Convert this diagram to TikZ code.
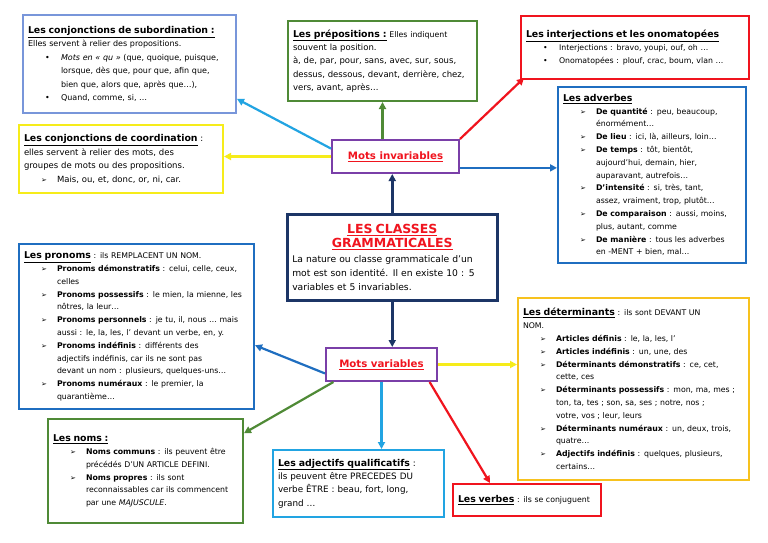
\documentclass[tikz,border=0pt]{standalone}
\usepackage{fontspec}
\setmainfont{DejaVu Sans}
\usetikzlibrary{
  calc,
  positioning,
  arrows.meta}
\definecolor{bleuciel}{HTML}{22A4E2}
\definecolor{pervenche}{HTML}{7896DA}
\definecolor{bleu}{HTML}{1F6EC0}
\definecolor{vert}{HTML}{4F8A36}
\definecolor{rouge}{HTML}{F0141E}
\definecolor{jaune}{HTML}{F6EC1A}
\definecolor{dore}{HTML}{F7C21E}
\definecolor{violet}{HTML}{7A3FA8}
\definecolor{marine}{HTML}{1C3566}
\newcommand{\titre}[1]{{\fontsize{9.4}{12.8}\selectfont\bfseries\underline{#1}}}
\newcommand{\rond}{\hspace*{17pt}\makebox[16pt][l]{•}}
\newcommand{\fl}{\hspace*{17pt}\makebox[16pt][l]{\fontsize{7}{7}\selectfont ➢}}
\newcommand{\suite}{\hspace*{33pt}}

\begin{document}
\begin{tikzpicture}[
  x=1pt, y=-1pt,
  >={Triangle[length=7pt,width=7pt]},
  boite/.style={draw,line width=2pt,anchor=north west,fill=white,inner sep=5pt,
    align=left,font=\fontsize{7.8}{12.8}\selectfont},
  grand/.style={font=\fontsize{8.5}{13.4}\selectfont},
  mots/.style={draw=violet,line width=2pt,fill=white,anchor=north west,
    text=rouge,font=\fontsize{10.2}{12}\selectfont\bfseries},
  fil/.style={->,line width=2.2pt}
]%
  \useasboundingbox[fill=white] (0,0) rectangle (768,543);

  \node (subord) [boite,draw=pervenche,text width=203pt,minimum height=98pt,
    font=\fontsize{8}{13.4}\selectfont] at (22,14)
  {\titre{Les conjonctions de subordination :}\\
   Elles servent à relier des propositions.\\
   \rond\textit{Mots en « qu »} (que, quoique, puisque,\\
   \suite lorsque, dès que, pour que, afin que,\\
   \suite bien que, alors que, après que…),\\
   \rond Quand, comme, si, …};

  \node (prep) [boite,grand,draw=vert,text width=179pt,minimum height=80pt] at (287,20)
  {\titre{Les prépositions :} {\fontsize{7.8}{12}\selectfont Elles indiquent}\\
   souvent la position.\\
   à, de, par, pour, sans, avec, sur, sous,\\
   dessus, dessous, devant, derrière, chez,\\
   vers, avant, après…};

  \node (interj) [boite,draw=rouge,text width=218pt,minimum height=63pt] at (520,15)
  {\titre{Les interjections et les onomatopées}\\
   \rond Interjections : bravo, youpi, ouf, oh …\\
   \rond Onomatopées : plouf, crac, boum, vlan …};

  \node (adv) [boite,draw=bleu,text width=178pt,minimum height=176pt] at (557,86)
  {\titre{Les adverbes}\\
   \fl\textbf{De quantité} : peu, beaucoup,\\
   \suite énormément…\\
   \fl\textbf{De lieu} : ici, là, ailleurs, loin…\\
   \fl\textbf{De temps} : tôt, bientôt,\\
   \suite aujourd’hui, demain, hier,\\
   \suite auparavant, autrefois…\\
   \fl\textbf{D’intensité} : si, très, tant,\\
   \suite assez, vraiment, trop, plutôt…\\
   \fl\textbf{De comparaison} : aussi, moins,\\
   \suite plus, autant, comme\\
   \fl\textbf{De manière} : tous les adverbes\\
   \suite en -MENT + bien, mal…};

  \node (coord) [boite,grand,draw=jaune,text width=194pt,minimum height=68pt] at (18,124)
  {\titre{Les conjonctions de coordination} :\\
   elles servent à relier des mots, des\\
   groupes de mots ou des propositions.\\
   \fl Mais, ou, et, donc, or, ni, car.};

  \node (inv) [mots,minimum width=127pt,minimum height=33pt] at (331,139)
  {\underline{Mots invariables}};

  \node (cent) [boite,draw=marine,line width=2.5pt,text width=200pt,minimum height=86pt,
    font=\fontsize{9.2}{14}\selectfont] at (286,213)
  {{\fontsize{12.5}{15}\selectfont\bfseries\color{rouge}%
    \makebox[\hsize][c]{\underline{LES CLASSES}}\\
    \makebox[\hsize][c]{\underline{GRAMMATICALES}}}\\[1pt]
   La nature ou classe grammaticale d’un\\
   mot est son identité. Il en existe 10 : 5\\
   variables et 5 invariables.};

  \node (var) [mots,minimum width=111pt,minimum height=33pt] at (325,347)
  {\underline{Mots variables}};

  \node (pron) [boite,draw=bleu,text width=225pt,minimum height=165pt] at (18,243)
  {\titre{Les pronoms} : ils REMPLACENT UN NOM.\\
   \fl\textbf{Pronoms démonstratifs} : celui, celle, ceux,\\
   \suite celles\\
   \fl\textbf{Pronoms possessifs} : le mien, la mienne, les\\
   \suite nôtres, la leur…\\
   \fl\textbf{Pronoms personnels} : je tu, il, nous … mais\\
   \suite aussi : le, la, les, l’ devant un verbe, en, y.\\
   \fl\textbf{Pronoms indéfinis} : différents des\\
   \suite adjectifs indéfinis, car ils ne sont pas\\
   \suite devant un nom : plusieurs, quelques-uns…\\
   \fl\textbf{Pronoms numéraux} : le premier, la\\
   \suite quarantième…};

  \node (det) [boite,draw=dore,text width=221pt,minimum height=182pt] at (517,297)
  {\titre{Les déterminants} : ils sont DEVANT UN\\
   NOM.\\
   \fl\textbf{Articles définis} : le, la, les, l’\\
   \fl\textbf{Articles indéfinis} : un, une, des\\
   \fl\textbf{Déterminants démonstratifs} : ce, cet,\\
   \suite cette, ces\\
   \fl\textbf{Déterminants possessifs} : mon, ma, mes ;\\
   \suite ton, ta, tes ; son, sa, ses ; notre, nos ;\\
   \suite votre, vos ; leur, leurs\\
   \fl\textbf{Déterminants numéraux} : un, deux, trois,\\
   \suite quatre…\\
   \fl\textbf{Adjectifs indéfinis} : quelques, plusieurs,\\
   \suite certains…};

  \node (noms) [boite,draw=vert,text width=185pt,minimum height=104pt] at (47,418)
  {\titre{Les noms :}\\
   \fl\textbf{Noms communs} : ils peuvent être\\
   \suite précédés D’UN ARTICLE DEFINI.\\
   \fl\textbf{Noms propres} : ils sont\\
   \suite reconnaissables car ils commencent\\
   \suite par une \textit{MAJUSCULE}.};

  \node (adj) [boite,draw=bleuciel,text width=161pt,minimum height=67pt,
    font=\fontsize{8.8}{13.4}\selectfont] at (272,449)
  {\titre{Les adjectifs qualificatifs} :\\
   ils peuvent être PRECEDES DU\\
   verbe ÊTRE : beau, fort, long,\\
   grand …};

  \node (verbes) [boite,draw=rouge,text width=138pt,minimum height=32pt] at (452,483)
  {\titre{Les verbes} : ils se conjuguent};

  \draw[fil,color=bleuciel]  (inv.173) -- (subord.-18);
  \draw[fil,color=vert]      (inv.north -| prep.south) -- (prep.south);
  \draw[fil,color=rouge]     (inv.north east) -- ($(interj.south west)+(4,-2)$);
  \draw[fil,color=bleu]      (inv.-10) -- (inv.-10 -| adv.west);
  \draw[fil,color=jaune]     (inv.west) -- (inv.west -| coord.east);

  \draw[fil,color=marine,line width=3.5pt] (cent.north) -- (cent.north |- inv.south);
  \draw[fil,color=marine,line width=3.5pt] (cent.south) -- (cent.south |- var.north);

  \draw[fil,color=bleu]      (var.189) -- (pron.-9);
  \draw[fil,color=jaune]     (var.east) -- (var.east -| det.west);
  \draw[fil,color=vert]      (var.200) -- (noms.21);
  \draw[fil,color=bleuciel]  (var.south) -- (var.south |- adj.north);
  \draw[fil,color=rouge]     (var.-20) -- ($(verbes.north west)+(38,0)$);

\end{tikzpicture}
\end{document}
